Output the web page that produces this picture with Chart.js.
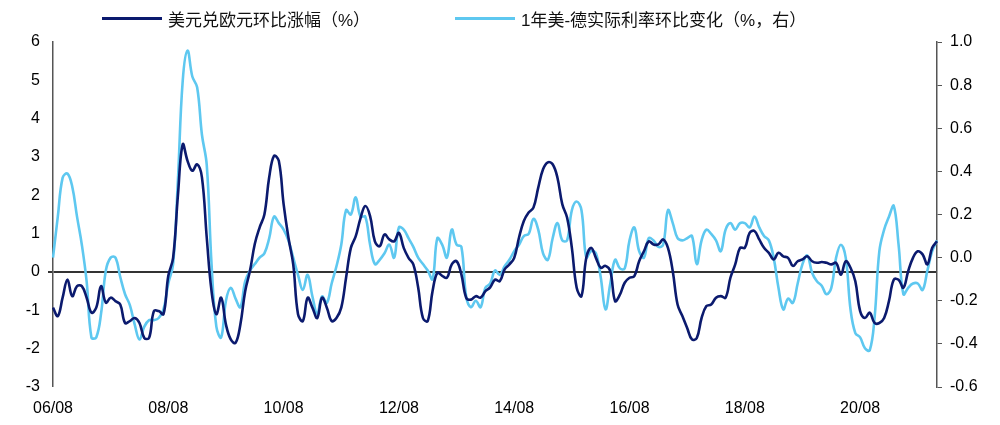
<!DOCTYPE html>
<html><head><meta charset="utf-8">
<script src="https://cdn.jsdelivr.net/npm/chart.js@4/dist/chart.umd.min.js"></script>
<style>
html,body{margin:0;padding:0;background:#fff;}
#wrap{position:relative;width:1000px;height:425px;}
.lg{position:absolute;top:6px;font-family:"Liberation Sans","Noto Sans CJK SC",sans-serif;font-size:17px;color:#111;display:flex;align-items:center;}
.lg span.s{display:inline-block;width:60px;height:3px;margin-right:6px;}
</style></head>
<body><div id="wrap">
<canvas id="c" width="1000" height="425"></canvas>
<div class="lg" style="left:102px"><span class="s" style="background:#0b1a6e"></span>美元兑欧元环比涨幅（%）</div>
<div class="lg" style="left:455px"><span class="s" style="background:#5ec8f0"></span>1年美-德实际利率环比变化（%，右）</div>
</div>
<script>
const seriesNames = ["美元兑欧元环比涨幅（%）","1年美-德实际利率环比变化（%，右）"];
const usdEur = [-0.93,-1.15,-0.67,-0.2,-0.63,-0.37,-0.37,-0.67,-1.06,-0.93,-0.37,-0.8,-0.67,-0.76,-0.85,-1.33,-1.28,-1.2,-1.33,-1.72,-1.72,-1.02,-1.02,-1.1,-0.1,0.37,2.0,3.33,2.9,2.64,2.81,2.47,0.9,-0.5,-1.1,-0.67,-1.37,-1.76,-1.85,-1.37,-0.5,0.03,0.73,1.16,1.5,2.47,3.03,2.9,
1.77,0.9,0.2,-1.1,-1.28,-0.67,-0.93,-1.2,-0.67,-0.93,-1.28,-1.2,-0.93,-0.15,0.63,0.93,1.4,1.72,1.46,0.8,0.67,0.98,0.85,0.8,1.02,0.63,0.37,0.2,-0.4,-1.2,-1.28,-0.5,-0.02,-0.1,-0.15,0.2,0.28,-0.06,-0.67,-0.72,-0.63,-0.67,-0.5,-0.4,-0.2,-0.24,0.07,0.2,
0.37,0.9,1.33,1.55,1.68,2.2,2.68,2.86,2.81,2.46,1.77,1.42,0.63,-0.41,-0.63,0.37,0.63,0.37,0.11,0.16,0.02,-0.76,-0.59,-0.28,-0.15,-0.11,0.28,0.54,0.8,0.72,0.72,0.85,0.63,0.02,-0.85,-1.15,-1.46,-1.76,-1.72,-1.2,-0.89,-0.85,-0.67,-0.63,-0.67,-0.15,0.2,0.63,
0.63,1.02,1.07,0.85,0.63,0.5,0.33,0.5,0.41,0.37,0.16,0.28,0.33,0.41,0.28,0.24,0.26,0.24,0.2,0.24,-0.07,0.28,0.11,-0.24,-1.02,-1.2,-1.06,-1.33,-1.33,-1.2,-0.76,-0.2,-0.2,-0.41,0.02,0.37,0.54,0.46,0.2,0.63,0.8];
const rateDiff = [0.0,0.19,0.37,0.39,0.33,0.19,0.06,-0.11,-0.37,-0.37,-0.26,-0.06,0.0,0.0,-0.09,-0.17,-0.22,-0.31,-0.38,-0.32,-0.29,-0.29,-0.28,-0.24,-0.12,-0.03,0.36,0.82,0.96,0.84,0.79,0.57,0.43,-0.03,-0.32,-0.37,-0.2,-0.14,-0.19,-0.23,-0.11,-0.06,-0.03,0.0,0.02,0.09,0.19,0.16,
0.13,0.08,0.0,-0.08,-0.15,-0.08,-0.18,-0.26,-0.18,-0.21,-0.12,-0.04,0.06,0.22,0.2,0.28,0.19,0.19,0.06,-0.03,-0.01,0.02,0.06,0.0,0.14,0.13,0.09,0.05,0.0,-0.03,-0.06,-0.1,0.09,0.06,0.0,0.13,0.06,0.05,-0.18,-0.23,-0.2,-0.23,-0.14,-0.12,-0.06,-0.08,-0.04,-0.01,
0.03,0.06,0.1,0.11,0.18,0.13,0.02,-0.01,0.09,0.16,0.08,0.08,0.22,0.26,0.22,0.0,0.03,0.02,-0.09,-0.24,-0.12,-0.01,-0.05,-0.05,0.08,0.14,0.03,0.0,0.09,0.08,0.05,0.06,0.22,0.16,0.09,0.08,0.09,0.1,-0.03,0.08,0.13,0.11,0.08,0.03,0.13,0.16,0.13,0.16,
0.16,0.14,0.19,0.14,0.1,0.08,0.0,-0.14,-0.24,-0.19,-0.21,-0.12,-0.03,0.01,-0.07,-0.11,-0.13,-0.17,-0.14,0.0,0.06,0.0,-0.24,-0.35,-0.37,-0.42,-0.43,-0.28,0.03,0.13,0.19,0.24,0.06,-0.17,-0.14,-0.12,-0.12,-0.15,-0.06,0.03,0.08];
const months = [];
for (let y = 2006, m = 8; months.length < usdEur.length; ) {
  months.push(String(y % 100).padStart(2,'0') + '/' + String(m).padStart(2,'0'));
  m++; if (m > 12) { m = 1; y++; }
}
const font = {family:'"Liberation Sans", Arial, sans-serif', size:16};
new Chart(document.getElementById('c'), {
  type:'line',
  data:{labels:months, datasets:[
    {label:seriesNames[0], data:usdEur, yAxisID:'y', borderColor:'#0b1a6e', borderWidth:2.6, pointRadius:0, tension:0.4, order:1},
    {label:seriesNames[1], data:rateDiff, yAxisID:'y2', borderColor:'#5ec8f0', borderWidth:2.6, pointRadius:0, tension:0.4, order:2}
  ]},
  options:{
    responsive:false, animation:false, devicePixelRatio:1,
    layout:{padding:{top:42,left:0,right:0,bottom:0}},
    plugins:{legend:{display:false}, tooltip:{enabled:false}},
    scales:{
      x:{type:'category', offset:false,
        grid:{display:false}, border:{display:false},
        ticks:{autoSkip:false, maxRotation:0, color:'#000', font, padding:4,
          callback:(v,i)=> i%24===0 ? months[i] : ''},
        afterFit:s=>{s.height=38;}},
      y:{position:'left', min:-3, max:6,
        ticks:{stepSize:1, color:'#000', font, padding:8},
        grid:{drawOnChartArea:true, drawTicks:true, tickLength:5,
          color:ctx=> ctx.tick && ctx.tick.value===0 ? '#333' : 'rgba(0,0,0,0)', lineWidth:ctx=> ctx.tick && ctx.tick.value===0 ? 2 : 0},
        border:{display:true, color:'#555', width:1.5},
        afterFit:s=>{s.width=53;}},
      y2:{position:'right', min:-0.6, max:1.0,
        ticks:{stepSize:0.2, color:'#000', font, padding:8, callback:v=>v.toFixed(1)},
        grid:{drawOnChartArea:false, tickLength:5, color:'#555'},
        border:{display:true, color:'#555', width:1.5},
        afterFit:s=>{s.width=63;}}
    }
  }
});
</script></body></html>
